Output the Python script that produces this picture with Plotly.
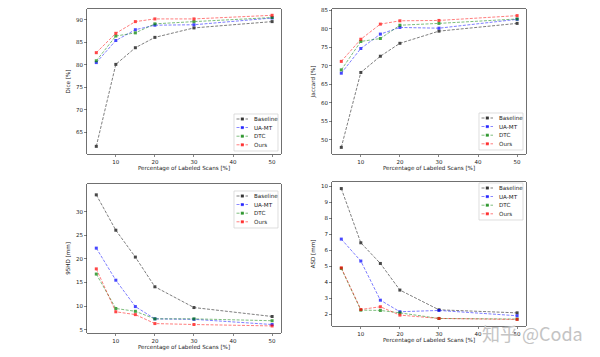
import plotly.graph_objects as go

x_pct = [5, 10, 15, 20, 30, 50]
methods = ["Baseline", "UA-MT", "DTC", "Ours"]

dice_baseline = [61.9, 80.1, 83.8, 86.1, 88.2, 89.6]
dice_uamt = [80.5, 85.4, 87.8, 88.8, 88.9, 90.4]
dice_dtc = [80.9, 86.4, 87.1, 89.1, 89.6, 90.5]
dice_ours = [82.7, 87.0, 89.6, 90.2, 90.2, 91.0]

jac_baseline = [47.9, 68.2, 72.6, 76.1, 79.4, 81.5]
jac_uamt = [68.0, 74.7, 78.6, 80.4, 80.2, 82.6]
jac_dtc = [68.9, 76.6, 77.4, 81.0, 81.5, 82.7]
jac_ours = [71.2, 77.2, 81.3, 82.2, 82.3, 83.6]

hd_baseline = [33.6, 26.1, 20.4, 14.1, 9.7, 7.8]
hd_uamt = [22.3, 15.5, 9.9, 7.3, 7.2, 6.1]
hd_dtc = [16.8, 9.5, 8.9, 7.3, 7.3, 6.9]
hd_ours = [17.9, 8.8, 8.2, 6.3, 6.1, 5.8]

asd_baseline = [9.85, 6.47, 5.18, 3.52, 2.29, 2.10]
asd_uamt = [6.70, 5.33, 2.89, 2.17, 2.25, 1.92]
asd_dtc = [4.87, 2.27, 2.25, 2.10, 1.75, 1.71]
asd_ours = [4.91, 2.31, 2.48, 1.96, 1.75, 1.69]

x_ticks = [10, 20, 30, 40, 50]
dice_ticks = [65, 70, 75, 80, 85, 90]
jac_ticks = [50, 55, 60, 65, 70, 75, 80, 85]
hd_ticks = [5, 10, 15, 20, 25, 30]
asd_ticks = [2, 3, 4, 5, 6, 7, 8, 9, 10]

colors = ["#000000", "#0000ff", "#008000", "#ff0000"]

W, H = 600, 357
# panel frames in pixels: (left, top, right, bottom); legend box top-left in pixels
panels = [
    dict(name="Dice [%]", series=[dice_baseline, dice_uamt, dice_dtc, dice_ours], ticks=dice_ticks,
         frame=(87.3, 9, 280.7, 154), yr=[60.2, 92.4], leg=(234, 114)),
    dict(name="Jaccard [%]", series=[jac_baseline, jac_uamt, jac_dtc, jac_ours], ticks=jac_ticks,
         frame=(332.3, 9, 525.7, 154), yr=[46.1, 85.4], leg=(479, 113)),
    dict(name="95HD [mm]", series=[hd_baseline, hd_uamt, hd_dtc, hd_ours], ticks=hd_ticks,
         frame=(87.3, 184, 280.7, 333), yr=[4.3, 35.9], leg=(234, 191)),
    dict(name="ASD [mm]", series=[asd_baseline, asd_uamt, asd_dtc, asd_ours], ticks=asd_ticks,
         frame=(332.3, 182, 525.7, 326), yr=[1.28, 10.26], leg=(479, 183)),
]

def px(xp):
    return xp / W

def py(yp):
    return 1 - yp / H

FONT = "DejaVu Sans"
DASH = "3px,1.5px"
fig = go.Figure()
layout = dict(
    width=W, height=H, margin=dict(l=0, r=0, t=0, b=0, autoexpand=False),
    paper_bgcolor="white", plot_bgcolor="white", showlegend=False,
    font=dict(family=FONT, size=5.5, color="#222"),
)
shapes = []
annotations = []

for i, p in enumerate(panels):
    n = i + 1
    xa = "x" if n == 1 else f"x{n}"
    ya = "y" if n == 1 else f"y{n}"
    for m, vals, c in zip(methods, p["series"], colors):
        fig.add_trace(go.Scatter(
            x=x_pct, y=vals, name=m, mode="lines+markers",
            line=dict(color=c, width=0.7, dash=DASH),
            marker=dict(color=c, size=3.0, symbol="square"),
            opacity=0.72, xaxis=xa, yaxis=ya,
        ))
    l, t, r, b = p["frame"]
    axis_common = dict(showline=True, linecolor="#333", linewidth=0.7, mirror=True,
                       ticks="outside", ticklen=2.5, tickwidth=0.6, tickcolor="#333",
                       showgrid=False, zeroline=False, automargin=False,
                       tickfont=dict(family=FONT, size=5.5, color="#222"))
    layout[f"xaxis{'' if n == 1 else n}"] = dict(
        axis_common, domain=[px(l), px(r)], range=[2.7, 52.2], tickvals=x_ticks,
        anchor=ya,
        title=dict(text="Percentage of Labeled Scans [%]", standoff=2,
                   font=dict(family=FONT, size=5.6, color="#222")))
    layout[f"yaxis{'' if n == 1 else n}"] = dict(
        axis_common, domain=[py(b), py(t)], range=p["yr"], tickvals=p["ticks"],
        anchor=xa,
        title=dict(text=p["name"], standoff=4,
                   font=dict(family=FONT, size=5.6, color="#222")))

    # legend box drawn per panel
    L, T = p["leg"]
    shapes.append(dict(type="rect", xref="paper", yref="paper",
                       x0=px(L), x1=px(L + 44), y0=py(T + 37), y1=py(T),
                       line=dict(color="#d0d0d0", width=0.7),
                       fillcolor="rgba(255,255,255,0.85)", layer="above"))
    for k, (m, c) in enumerate(zip(methods, colors)):
        ry = T + 5 + k * 8.6
        shapes.append(dict(type="line", xref="paper", yref="paper",
                           x0=px(L + 2.5), x1=px(L + 14), y0=py(ry), y1=py(ry),
                           line=dict(color=c, width=0.7, dash=DASH), opacity=0.72, layer="above"))
        shapes.append(dict(type="rect", xref="paper", yref="paper",
                           x0=px(L + 6.8), x1=px(L + 9.8), y0=py(ry + 1.5), y1=py(ry - 1.5),
                           line=dict(width=0), fillcolor=c, opacity=0.72, layer="above"))
        annotations.append(dict(text=m, xref="paper", yref="paper", x=px(L + 17.5), y=py(ry),
                                xanchor="left", yanchor="middle", showarrow=False,
                                font=dict(family=FONT, size=5.6, color="#222")))

annotations.append(dict(text="知乎 @Coda", x=px(532), y=py(333), xref="paper", yref="paper",
                        showarrow=False, xanchor="center", yanchor="middle",
                        font=dict(family="Noto Sans CJK SC", size=18, color="#c4c4c4")))
layout["shapes"] = shapes
layout["annotations"] = annotations
fig.update_layout(**layout)
fig.write_html("out.html", config={"displayModeBar": False, "staticPlot": True},
               post_script="document.body.style.margin='0';document.body.style.padding='0';"
                           "document.documentElement.style.overflow='hidden';")
